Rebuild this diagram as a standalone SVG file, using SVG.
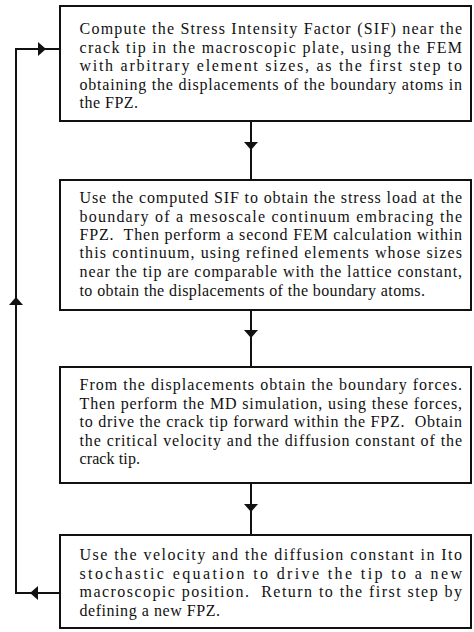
<svg xmlns="http://www.w3.org/2000/svg" width="474" height="632" viewBox="0 0 474 632">
<style>
.box{fill:#fff;stroke:#111;stroke-width:2}
.ln{fill:none;stroke:#111;stroke-width:2}
.t{font-family:'Liberation Serif','DejaVu Serif',serif;font-size:16px;fill:#111;letter-spacing:0.5px}
</style>
<defs>
<marker id="ah" viewBox="0 0 8 14" refX="8" refY="7" markerWidth="8" markerHeight="14" markerUnits="userSpaceOnUse" orient="auto">
<path d="M0,0 L8,7 L0,14 z" fill="#111"/>
</marker>
</defs>
<rect width="474" height="632" fill="#fff"/>
<g id="connectors">
<path class="ln" d="M251,121 V150" marker-end="url(#ah)"/>
<path class="ln" d="M251,150 V180"/>
<path class="ln" d="M251,310 V338" marker-end="url(#ah)"/>
<path class="ln" d="M251,338 V367"/>
<path class="ln" d="M251,483 V512" marker-end="url(#ah)"/>
<path class="ln" d="M251,512 V535"/>
<path class="ln" d="M60,593 H30" marker-end="url(#ah)"/>
<path class="ln" d="M30,593 H16 V297" marker-end="url(#ah)"/>
<path class="ln" d="M16,297 V49 H46" marker-end="url(#ah)"/>
<path class="ln" d="M46,49 H60"/>
</g>
<g id="step1" class="t" font-family="Liberation Serif, DejaVu Serif, serif">
<rect class="box" x="60" y="6" width="411" height="115"/>
<text x="79.5" y="34" textLength="383" lengthAdjust="spacing">Compute the Stress Intensity Factor (SIF) near the</text>
<text x="79.5" y="52.5" textLength="383" lengthAdjust="spacing">crack tip in the macroscopic plate, using the FEM</text>
<text x="79.5" y="71" textLength="383" lengthAdjust="spacing">with arbitrary element sizes, as the first step to</text>
<text x="79.5" y="89.5" textLength="383" lengthAdjust="spacing">obtaining the displacements of the boundary atoms in</text>
<text x="79.5" y="108">the FPZ.</text>
</g>
<g id="step2" class="t" font-family="Liberation Serif, DejaVu Serif, serif">
<rect class="box" x="60" y="180" width="411" height="130"/>
<text x="79.5" y="203.3" textLength="383" lengthAdjust="spacing">Use the computed SIF to obtain the stress load at the</text>
<text x="79.5" y="221.7" textLength="383" lengthAdjust="spacing">boundary of a mesoscale continuum embracing the</text>
<text x="79.5" y="240" textLength="383" lengthAdjust="spacing">FPZ.&#160; Then perform a second FEM calculation within</text>
<text x="79.5" y="258.3" textLength="383" lengthAdjust="spacing">this continuum, using refined elements whose sizes</text>
<text x="79.5" y="277" textLength="383" lengthAdjust="spacing">near the tip are comparable with the lattice constant,</text>
<text x="79.5" y="295.7" textLength="346" lengthAdjust="spacing">to obtain the displacements of the boundary atoms.</text>
</g>
<g id="step3" class="t" font-family="Liberation Serif, DejaVu Serif, serif">
<rect class="box" x="60" y="367" width="411" height="116"/>
<text x="79.5" y="389.5" textLength="383" lengthAdjust="spacing">From the displacements obtain the boundary forces.</text>
<text x="79.5" y="408.5" textLength="383" lengthAdjust="spacing">Then perform the MD simulation, using these forces,</text>
<text x="79.5" y="427" textLength="383" lengthAdjust="spacing">to drive the crack tip forward within the FPZ.&#160; Obtain</text>
<text x="79.5" y="445.5" textLength="383" lengthAdjust="spacing">the critical velocity and the diffusion constant of the</text>
<text x="79.5" y="464" textLength="61" lengthAdjust="spacing">crack tip.</text>
</g>
<g id="step4" class="t" font-family="Liberation Serif, DejaVu Serif, serif">
<rect class="box" x="60" y="535" width="411" height="93"/>
<text x="79.5" y="560" textLength="383" lengthAdjust="spacing">Use the velocity and the diffusion constant in Ito</text>
<text x="79.5" y="578.5" textLength="383" lengthAdjust="spacing">stochastic equation to drive the tip to a new</text>
<text x="79.5" y="597" textLength="383" lengthAdjust="spacing">macroscopic position.&#160; Return to the first step by</text>
<text x="79.5" y="615.5" textLength="141" lengthAdjust="spacing">defining a new FPZ.</text>
</g>
</svg>
